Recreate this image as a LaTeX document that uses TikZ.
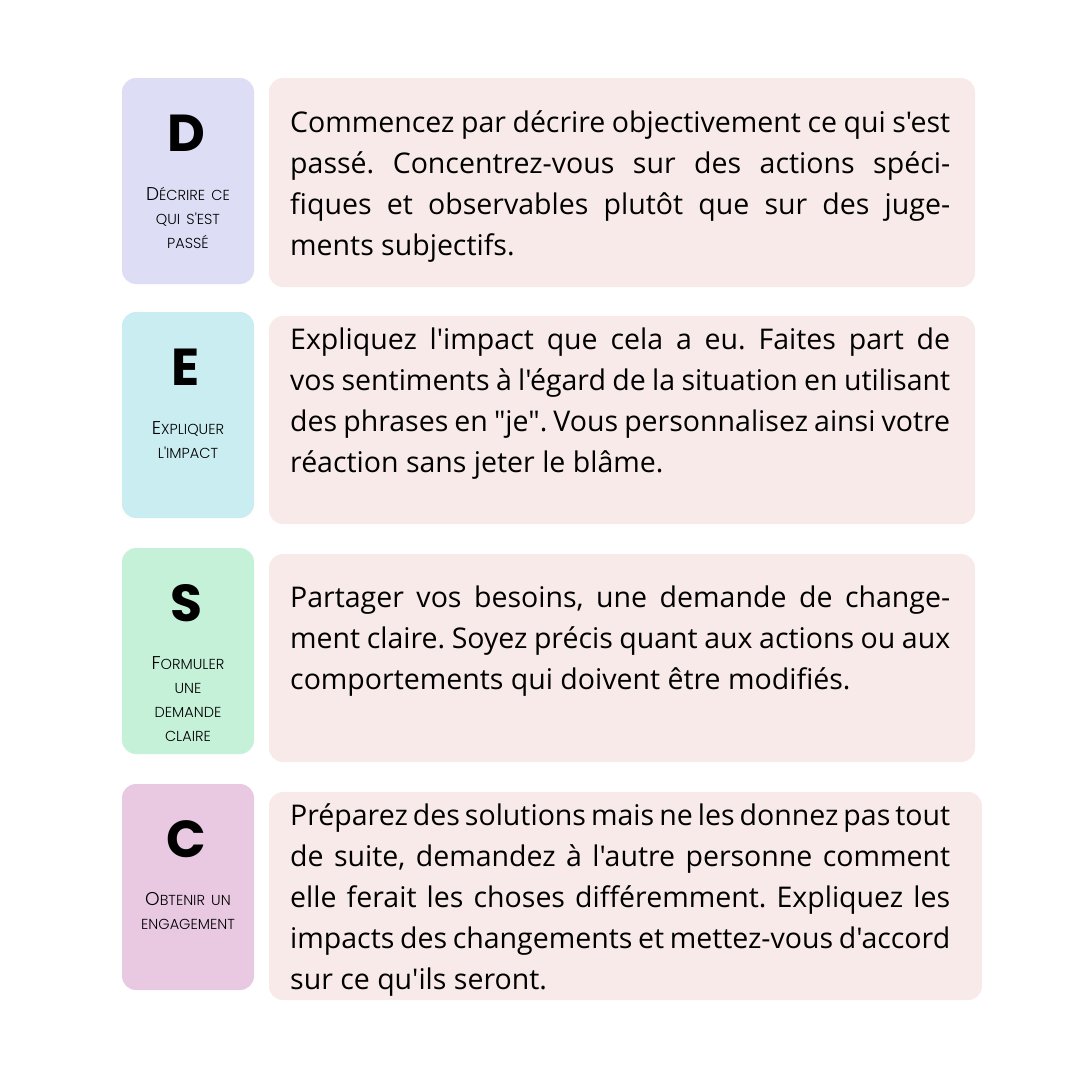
\documentclass[tikz,border=0pt]{standalone}
\usepackage{fontspec}
\setmainfont[Ligatures=TeXReset]{Open Sans}
\newfontfamily\letfont{Poppins}
\newfontfamily\subfont[Ligatures=TeXReset]{Poppins Light}
\definecolor{cD}{HTML}{DEDDF6}
\definecolor{cE}{HTML}{C9EDF0}
\definecolor{cS}{HTML}{C6F1D9}
\definecolor{cC}{HTML}{E8C9E1}
\definecolor{cR}{HTML}{F8EAE8}
\newcommand{\sck}[2]{#1{\fontsize{14.5}{14}\selectfont #2}}
\newcommand{\nohy}{\hyphenpenalty=10000\relax\exhyphenpenalty=10000\relax\frenchspacing}
\begin{document}
\begin{tikzpicture}[x=1pt,y=-1pt,
  lbox/.style={rounded corners=14pt},
  bigl/.style={font=\letfont\bfseries\fontsize{52}{52}\selectfont,text=black},
  subl/.style={font=\subfont\fontsize{18.5}{24}\selectfont,align=center,text width=130pt,text=black},
  body/.style={font=\fontsize{28.5}{41}\selectfont,text width=660pt,align=justify,anchor=north west,inner sep=0pt,text=black}]
\fill[white] (0,0) rectangle (1080,1080);
\useasboundingbox (0,0) rectangle (1080,1080);
% D
\fill[cD,lbox] (122,78) rectangle (254,284);
\fill[cR,lbox] (269,78) rectangle (975,287);
\node[bigl] (ld) at (186,133) {D};
\node[subl] (sd) at (188,218) {\sck{D}{ÉCRIRE CE}\\\sck{}{QUI S'EST}\\\sck{}{PASSÉ}};
\node[body] (td) at (290,110) {\nohy Commencez par décrire objectivement ce qui s'est passé. Concentrez-vous sur des actions spécifiques et observables plutôt que sur des jugements subjectifs.};
% E
\fill[cE,lbox] (122,312) rectangle (254,518);
\fill[cR,lbox] (269,316) rectangle (975,524);
\node[bigl] (le) at (186,367) {E};
\node[subl] (se) at (188,440) {\sck{E}{XPLIQUER}\\\sck{}{L'IMPACT}};
\node[body] (te) at (290,328) {\nohy Expliquez l'impact que cela a eu. Faites part de vos sentiments à l'égard de la situation en utilisant des phrases en "je". Vous personnalisez ainsi votre réaction sans jeter le blâme.};
% S
\fill[cS,lbox] (122,548) rectangle (254,754);
\fill[cR,lbox] (269,554) rectangle (975,762);
\node[bigl] (ls) at (186,603) {S};
\node[subl] (ss) at (188,699) {\sck{F}{ORMULER}\\\sck{}{UNE}\\\sck{}{DEMANDE}\\\sck{}{CLAIRE}};
\node[body] (ts) at (290,586) {\nohy Partager vos besoins, une demande de changement claire. Soyez précis quant aux actions ou aux comportements qui doivent être modifiés.};
% C
\fill[cC,lbox] (122,784) rectangle (254,990);
\fill[cR,lbox] (269,792) rectangle (982,1000);
\node[bigl] (lc) at (186,839) {C};
\node[subl] (sc) at (188,911) {\sck{O}{BTENIR UN}\\\sck{}{ENGAGEMENT}};
\node[body] (tc) at (290,803) {\nohy Préparez des solutions mais ne les donnez pas tout de suite, demandez à l'autre personne comment elle ferait les choses différemment. Expliquez les impacts des changements et mettez-vous d'accord sur ce qu'ils seront.};
\end{tikzpicture}
\end{document}
